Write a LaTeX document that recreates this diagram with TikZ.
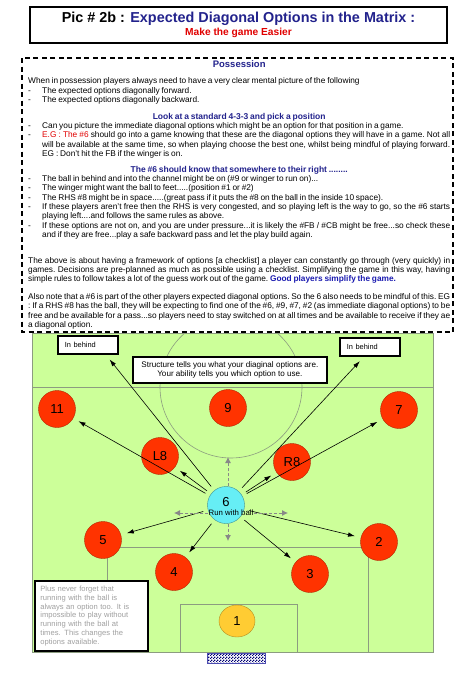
\documentclass[tikz,border=0pt]{standalone}
\usepackage{fontspec}
\setmainfont{Liberation Sans}
\usepackage{xcolor}
\usetikzlibrary{arrows.meta,positioning,patterns,shapes.geometric}
\definecolor{Navy}{HTML}{22228C}
\definecolor{Alert}{HTML}{E00000}
\definecolor{Good}{HTML}{1A1AB0}
\definecolor{Pitch}{HTML}{CCFF99}
\definecolor{Chalk}{HTML}{8C9C80}
\definecolor{Player}{HTML}{FF3300}
\definecolor{Ball}{HTML}{66EEF5}
\definecolor{Keeper}{HTML}{FFCC33}
\definecolor{Note}{HTML}{A0A0A0}
\definecolor{Run}{HTML}{888888}
\pgfdeclarepatternformonly{finecheck}{\pgfqpoint{0pt}{0pt}}{\pgfqpoint{3pt}{3pt}}{\pgfqpoint{3pt}{3pt}}
  {\pgfpathrectangle{\pgfqpoint{0pt}{0pt}}{\pgfqpoint{1.5pt}{1.5pt}}\pgfpathrectangle{\pgfqpoint{1.5pt}{1.5pt}}{\pgfqpoint{1.5pt}{1.5pt}}\pgfusepath{fill}}

\begin{document}
\begin{tikzpicture}[x=1pt,y=-1pt,>={Latex[length=7pt,width=4.5pt]}]
  \tikzstyle{plr}=[circle,draw=Player!70!black,fill=Player,minimum size=37pt,inner sep=0pt,font=\fontsize{13}{13}\selectfont]
  \tikzstyle{opt}=[->,line width=0.6pt,shorten <=5pt,shorten >=6pt]
  \tikzstyle{run}=[-{Latex[length=6pt,width=6pt]},draw=Run,line width=0.8pt,dash pattern=on 3pt off 2pt]
  \tikzstyle{tag}=[draw,line width=1.8pt,fill=white,inner sep=0pt,font=\fontsize{7.4}{8.5}\selectfont]
  \useasboundingbox (0,0) rectangle (474,680);

  % title
  \node[draw,line width=1.6pt,minimum width=417pt,minimum height=36pt,align=center,inner sep=0pt] (ttl) at (238.5,25)
    {{\fontsize{14.4}{16}\selectfont\bfseries Pic \# 2b : \textcolor{Navy}{Expected Diagonal Options in the Matrix :}}\\[1.5pt]
     {\fontsize{10.2}{11}\selectfont\bfseries\color{Alert} Make the game Easier}};

  % notes
  \draw[line width=2pt,dash pattern=on 5pt off 3.5pt] (22,58) rectangle (453,332);
  \node[anchor=north west,inner sep=0pt] (txt) at (28,60.5) {\begin{minipage}{422pt}
    \fontsize{8.3}{9.3}\selectfont\frenchspacing
    \spaceskip=0.22em plus 0.6em minus 0.05em
    \def\dash{\makebox[14pt][l]{-}}
    {\centering\fontsize{9.5}{9.3}\selectfont\bfseries\color{Navy}Possession\par}
    \vspace{7pt}
    When in possession players always need to have a very clear mental picture of the following\par
    \dash The expected options diagonally forward.\par
    \dash The expected options diagonally backward.\par
    \vspace{7.5pt}
    {\centering\fontsize{8.5}{9.3}\selectfont\bfseries\color{Navy}Look at a standard 4-3-3 and pick a position\par}
    {\hangindent=14pt\dash Can you picture the immediate diagonal options which might be an option for that position in a game.\par}
    {\hangindent=14pt\dash \textcolor{Alert}{E.G : The \#6} should go into a game knowing that these are the diagonal options they will have in a game. Not all\linebreak
     will be available at the same time, so when playing choose the best one, whilst being mindful of playing forward.\linebreak
     EG : Don't hit the FB if the winger is on.\par}
    \vspace{6.5pt}
    {\centering\fontsize{8.5}{9.3}\selectfont\bfseries\color{Navy}The \#6 should know that somewhere to their right ........\par}
    {\hangindent=14pt\dash The ball in behind and into the channel might be on  (\#9 or winger to run on)...\par}
    {\hangindent=14pt\dash The winger might want the ball to feet.....(position \#1 or \#2)\par}
    {\hangindent=14pt\dash The RHS \#8 might be in space.....(great pass if it puts the \#8 on the ball in the inside 10 space).\par}
    {\hangindent=14pt\dash If these players aren't free then the RHS is very congested, and so playing left is the way to go, so the \#6 starts\linebreak
     playing left....and follows the same rules as above.\par}
    {\hangindent=14pt\dash If these options are not on, and you are under pressure...it is likely the \#FB / \#CB might be free...so check these\linebreak
     and if they are free...play a safe backward pass and let the play build again.\par}
    \vspace{16.5pt}
    The above is about having a framework of options [a checklist] a player can constantly go through (very quickly) in\linebreak
    games. Decisions are pre-planned as much as possible using a checklist. Simplifying the game in this way, having\linebreak
    simple rules to follow takes a lot of the guess work out of the game. \textcolor{Good}{\bfseries Good players simplify the game.}\par
    \vspace{8.5pt}
    Also note that a \#6 is part of the other players expected diagonal options. So the 6 also needs to be mindful of this. EG\linebreak
    : If a RHS \#8 has the ball, they will be expecting to find one of the \#6, \#9, \#7, \#2 (as immediate diagonal options) to be\linebreak
    free and be available for a pass...so players need to stay switched on at all times and be available to receive  if they ae\linebreak
    a diagonal option.\par
  \end{minipage}};

  % pitch
  \fill[Pitch] (32,333) rectangle (433,652);
  \begin{scope}
    \clip (32,333) rectangle (433,652);
    \draw[Chalk,line width=0.6pt] (231,387) circle (71);
  \end{scope}
  \draw[Chalk,line width=0.6pt] (32,333) rectangle (433,652);
  \draw[Chalk,line width=0.6pt] (32,387) -- (433,387);
  \draw[Chalk,line width=0.6pt] (107,652) |- (368,547) -- (368,652);
  \draw[Chalk,line width=0.6pt] (180,652) |- (297,604) -- (297,652);
  \fill[white] (207,653) rectangle (265,663);
  \draw[blue!40!gray,line width=0.4pt,pattern=finecheck,pattern color=blue!45!black] (207,653) rectangle (265,663);

  % players
  \node[plr] (p11) at (57,409) {11};
  \node[plr] (p9) at (228,408) {9};
  \node[plr] (p7) at (399,410) {7};
  \node[plr] (pl8) at (160,456) {L8};
  \node[plr] (pr8) at (292,462) {R8};
  \node[plr,fill=Ball,draw=Ball!60!black] (p6) at (226,505) {};
  \node[plr] (p5) at (103,540) {5};
  \node[plr] (p2) at (379,542) {2};
  \node[plr] (p4) at (174,572) {4};
  \node[plr] (p3) at (310,574) {3};
  \node[ellipse,draw=Keeper!70!black,fill=Keeper,minimum width=36pt,minimum height=32pt,inner sep=0pt,font=\fontsize{13}{13}\selectfont] (p1) at (237,621) {1};
  \node[font=\fontsize{13}{13}\selectfont] (n6) at (226,502) {6};
  \node[font=\fontsize{7.8}{8}\selectfont,inner sep=0pt] (rwb) at (231,513) {Run with ball};

  % boxes
  \node[tag,anchor=north west,minimum width=60pt,minimum height=18pt,text width=46pt,align=left] (ib1) at (57,335) {In behind};
  \node[tag,anchor=north west,minimum width=60pt,minimum height=18pt,text width=46pt,align=left] (ib2) at (339,337) {In behind};
  \node[tag,anchor=north west,minimum width=194pt,minimum height=26pt,align=center,font=\fontsize{8.1}{9}\selectfont] (stc) at (132,356)
    {Structure tells you what your diaginal options are.\\Your ability tells you which option to use.};
  \node[tag,anchor=north west,minimum width=113pt,minimum height=70pt,text width=102pt,align=left,text=Note,font=\fontsize{7.6}{8.8}\selectfont] (plus) at (34,580)
    {Plus never forget that\\running with the ball is\\always an option too. It is\\impossible to play without\\running with the ball at\\times. This changes the\\options available.};

  % options from the 6
  \draw[opt] (p6) -- (p11);
  \draw[opt] (p6) -- ([xshift=18pt]ib1.south);
  \draw[opt] (p6) -- (pl8);
  \draw[opt] (p6) -- (pr8);
  \draw[opt] (p6) -- ([xshift=-6pt]ib2.south);
  \draw[opt] (p6) -- (p7);
  \draw[opt] (p6) -- (p5);
  \draw[opt] (p6) -- (p2);
  \draw[opt] (p6) -- (p4);
  \draw[opt] (p6) -- (p3);

  % run with the ball
  \coordinate (ru) at (228,457);
  \coordinate (rd) at (228,541);
  \coordinate (rl) at (174,513);
  \coordinate (rr) at (288,513);
  \draw[run] ([xshift=2pt]p6.north) -- (ru);
  \draw[run] ([xshift=2pt]p6.south) -- (rd);
  \draw[run] (rwb.west) -- (rl);
  \draw[run] (rwb.east) -- (rr);
\end{tikzpicture}
\end{document}
